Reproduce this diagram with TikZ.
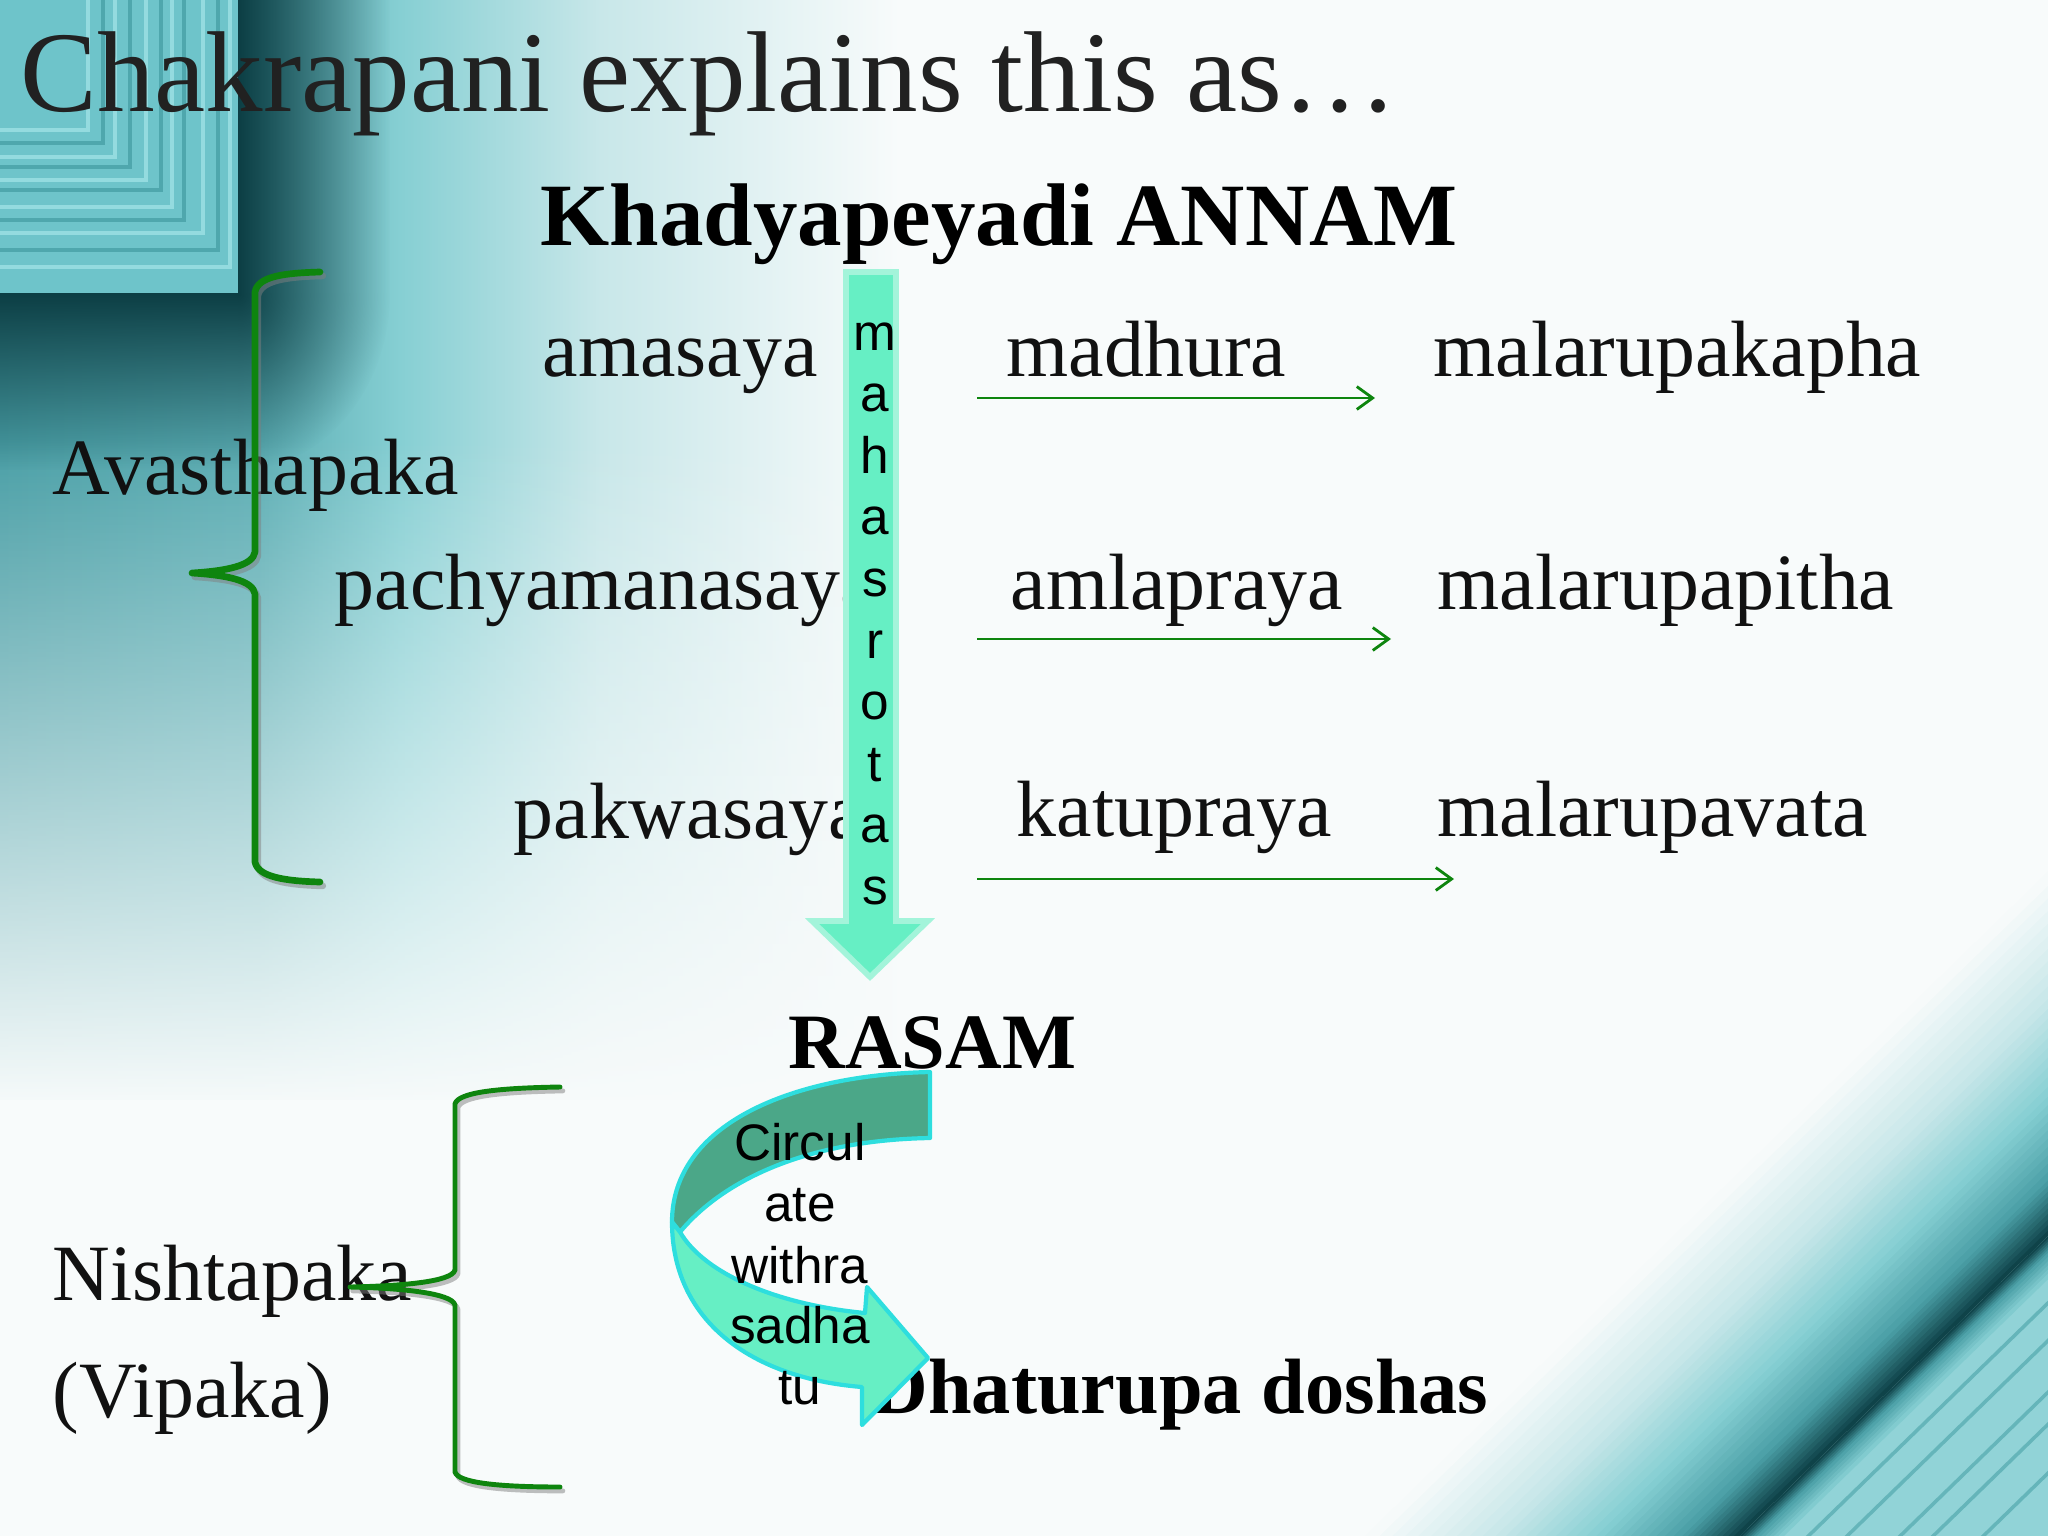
\documentclass[tikz,border=0pt]{standalone}
\usepackage{fontspec}
\setmainfont{Liberation Serif}
\newfontfamily\arialf{Liberation Sans}
\usetikzlibrary{arrows.meta,fadings}
\definecolor{bgw}{HTML}{F8FBFB}
\definecolor{tealD}{HTML}{0C3E44}
\definecolor{tealM}{HTML}{4A9FA6}
\definecolor{tealL}{HTML}{86CFD3}
\definecolor{tealP}{HTML}{C8E7E9}
\definecolor{frameC}{HTML}{6EC4CA}
\definecolor{frameL}{HTML}{94DBDF}
\definecolor{frameD}{HTML}{4FA7AD}
\definecolor{brG}{HTML}{0E850E}
\definecolor{aqua}{HTML}{66EFC4}
\definecolor{aquaE}{HTML}{A3F4DA}
\definecolor{bandD}{HTML}{4BA788}
\definecolor{cyanE}{HTML}{2EDEDE}
\definecolor{ink}{HTML}{111111}
\pgfdeclarehorizontalshading{leftbg}{100bp}{color(0bp)=(tealM); color(25bp)=(tealM); color(38bp)=(tealM!70!tealL); color(45bp)=(tealL); color(55bp)=(tealP); color(70bp)=(bgw); color(100bp)=(bgw)}
\tikzfading[name=clearTop, top color=transparent!100, bottom color=transparent!0]
\tikzfading[name=clearRight, left color=transparent!0, right color=transparent!100]
\tikzfading[name=clearBottom, top color=transparent!0, bottom color=transparent!100]
\tikzfading[name=radialClear, inner color=transparent!0, outer color=transparent!100]
\tikzset{
  body/.style={anchor=base west, inner sep=0pt, text=ink, font=\fontsize{22.7}{27}\selectfont},
  bodyb/.style={anchor=base west, inner sep=0pt, text=black, font=\bfseries\fontsize{22.3}{26}\selectfont},
  headb/.style={anchor=base west, inner sep=0pt, text=black, font=\bfseries\fontsize{25.3}{30}\selectfont},
  titletext/.style={anchor=base west, inner sep=0pt, text=black!87, font=\fontsize{32.7}{38}\selectfont},
  vlabel/.style={anchor=base, inner sep=0pt, text=black, font=\arialf\fontsize{14.6}{17}\selectfont},
  bracebig/.style={draw=brG, line width=1.9pt, line cap=round, line join=round},
  bracesmall/.style={draw=brG, line width=1.4pt, line cap=round, line join=round},
  braceshadow/.style={draw=black!50, opacity=0.5},
  thinarrow/.style={draw=brG, line width=0.6pt, -{Straight Barb[length=4.5pt,width=6.5pt,line width=0.8pt]}},
}
\begin{document}
\begin{tikzpicture}[x=0.01cm,y=-0.01cm]
\useasboundingbox (0,0) rectangle (2048,1536);
% ---------- background ----------
\fill[bgw] (0,0) rectangle (2048,1536);
\shade[shading=leftbg] (0,0) rectangle (1000,1100);
\fill[bgw, path fading=clearTop] (0,440) rectangle (1010,1110);
\fill[bgw] (0,1100) rectangle (1010,1200);
% top-left frame
\fill[frameC] (0,0) rectangle (240,295);
\foreach \xx/\yy/\cc in {88/130/frameL,103/143/frameD,115/157/frameL,130/167/frameD,146/180/frameL,161/190/frameD,172/207/frameL,184/220/frameD,203/233/frameL,218/250/frameD,230/267/frameL}{
  \draw[\cc, line width=1.3pt] (0,\yy) -- (\xx,\yy) -- (\xx,0);
}
% frame shadow (L-shaped)
\fill[tealD, path fading=clearRight] (238,0) rectangle (390,293);
\fill[tealD, path fading=clearBottom] (0,293) rectangle (238,470);
\begin{scope}
  \clip (238,293) rectangle (392,472);
  \fill[tealD, path fading=radialClear] (238,293) ellipse [x radius=152, y radius=177];
\end{scope}
% bottom-right diagonal
\begin{scope}[shift={(2048,1236)}, rotate=44.2]
  \fill[tealL!90!bgw] (-1000,0) rectangle (600,700);
  \foreach \a/\b/\ca/\cb in {0/12/tealD/tealM, 12/30/tealM/tealL}{
    \foreach \t in {0,...,5}{
      \pgfmathsetmacro\ya{\a+(\b-\a)*\t/6}
      \pgfmathsetmacro\yb{\ya+(\b-\a)/6+1}
      \pgfmathtruncatemacro\p{100-100*\t/6-8}
      \fill[\ca!\p!\cb] (-1000,\ya) rectangle (600,\yb);
    }
  }
  \foreach \b in {48,75,112,135,170}{\draw[tealM!55!tealL, line width=1pt] (-1000,\b) -- (600,\b);}
  \foreach \a/\b/\ca/\cb in {0/40/tealD/tealM, 40/100/tealM/tealL, 100/170/tealL/tealP, 170/260/tealP/bgw}{
    \foreach \t in {0,...,9}{
      \pgfmathsetmacro\ya{\a+(\b-\a)*\t/10}
      \pgfmathsetmacro\yb{\ya+(\b-\a)/10+1}
      \pgfmathtruncatemacro\p{95-10*\t}
      \fill[\ca!\p!\cb] (-1000,-\ya) rectangle (600,-\yb);
    }
  }
\end{scope}
% ---------- text ----------
\node[titletext] (title) at (20,111) {Chakrapani explains this as…};
\node[headb] (annam) at (540,245) {Khadyapeyadi ANNAM};
\node[body] (amasaya) at (542,376) {amasaya};
\node[body] (madhura) at (1006,376) {madhura};
\node[body] (kapha) at (1433,376) {malarupakapha};
\node[body] (avastha) at (52,494) {Avasthapaka};
\node[body] (pachya) at (334,609) {pachyamanasaya};
\node[body] (amla) at (1010,609) {amlapraya};
\node[body] (pitha) at (1437,609) {malarupapitha};
\node[body] (pakwa) at (513,838) {pakwasaya};
\node[body] (katu) at (1016,836) {katupraya};
\node[body] (vata) at (1437,836) {malarupavata};
\node[bodyb] (rasam) at (788,1068) {RASAM};
\node[body] (nishta) at (52,1300) {Nishtapaka};
\node[body] (vipaka) at (52,1417) {(Vipaka)};
\node[bodyb] (dhatu) at (871,1413) {Dhaturupa doshas};
% ---------- braces ----------
\foreach \sty/\dx in {braceshadow/1, {}/0}{
  \draw[bracebig, \sty, xshift=\dx*0.8pt, yshift=-\dx*1.1pt]
    (320,272) .. controls (285,273) and (258,276) .. (255,292) -- (255,552)
    .. controls (253,566) and (225,571) .. (192,573)
    .. controls (225,575) and (253,580) .. (255,594) -- (255,862)
    .. controls (258,877) and (285,881) .. (320,882);
  \draw[bracesmall, \sty, xshift=\dx*0.8pt, yshift=-\dx*1.1pt]
    (560,1087) .. controls (500,1088) and (458,1092) .. (455,1104) -- (455,1270)
    .. controls (452,1282) and (400,1286) .. (350,1287)
    .. controls (400,1288) and (452,1293) .. (455,1305) -- (455,1472)
    .. controls (458,1483) and (500,1487) .. (560,1487);
}
% ---------- thin arrows ----------
\coordinate (a1s) at (977,398); \coordinate (a1e) at (1375,398);
\coordinate (a2s) at (977,639); \coordinate (a2e) at (1391,639);
\coordinate (a3s) at (977,879); \coordinate (a3e) at (1454,879);
\draw[thinarrow] (a1s) -- (a1e);
\draw[thinarrow] (a2s) -- (a2e);
\draw[thinarrow] (a3s) -- (a3e);
% ---------- vertical arrow ----------
\path[fill=aqua, draw=aquaE, line width=1.6pt, line join=miter]
  (846,272) -- (896,272) -- (896,921) -- (928,921) -- (870,977) -- (812,921) -- (846,921) -- cycle;
\foreach \ch [count=\i] in {m,a,h,a,s,r,o,t,a,s}{
  \node[vlabel] (mh\i) at (875,{350+61.6*(\i-1)}) {\ch};
}
% ---------- curved arrow ----------
\path[fill=bandD, draw=cyanE, line width=1.2pt, line join=round]
  (930,1072) .. controls (790,1075) and (672,1125) .. (672,1222) -- (680,1232)
  .. controls (725,1178) and (810,1140) .. (930,1138) -- cycle;
\path[fill=aqua, draw=cyanE, line width=1.2pt, line join=round]
  (672,1222) .. controls (672,1320) and (750,1378) .. (862,1387) -- (862,1425)
  -- (928,1358) -- (867,1287) -- (865,1313)
  .. controls (780,1305) and (705,1275) .. (680,1232) -- cycle;
\foreach \w/\yy [count=\i] in {Circul/1160, ate/1221, withra/1283, sadha/1343, tu/1404}{
  \node[vlabel] (ci\i) at (800,\yy) {\w};
}
\end{tikzpicture}
\end{document}
